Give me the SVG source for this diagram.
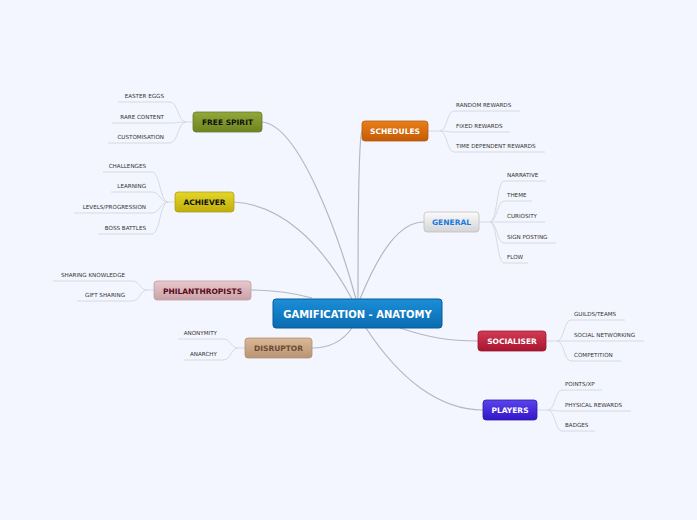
<svg xmlns="http://www.w3.org/2000/svg" width="697" height="520" viewBox="0 0 697 520">
<defs>
<linearGradient id="gC" x1="0" y1="0" x2="0" y2="1"><stop offset="0" stop-color="#1a8fd8"/><stop offset="1" stop-color="#0a6bb0"/></linearGradient>
<linearGradient id="gO" x1="0" y1="0" x2="0" y2="1"><stop offset="0" stop-color="#e9801a"/><stop offset="1" stop-color="#c45a05"/></linearGradient>
<linearGradient id="gG" x1="0" y1="0" x2="0" y2="1"><stop offset="0" stop-color="#fbfbfb"/><stop offset="1" stop-color="#d4d4d4"/></linearGradient>
<linearGradient id="gR" x1="0" y1="0" x2="0" y2="1"><stop offset="0" stop-color="#d33a55"/><stop offset="1" stop-color="#a8142e"/></linearGradient>
<linearGradient id="gP" x1="0" y1="0" x2="0" y2="1"><stop offset="0" stop-color="#5a44ee"/><stop offset="1" stop-color="#3315c8"/></linearGradient>
<linearGradient id="gF" x1="0" y1="0" x2="0" y2="1"><stop offset="0" stop-color="#93a838"/><stop offset="1" stop-color="#6d8420"/></linearGradient>
<linearGradient id="gA" x1="0" y1="0" x2="0" y2="1"><stop offset="0" stop-color="#e4d628"/><stop offset="1" stop-color="#bfae0a"/></linearGradient>
<linearGradient id="gPh" x1="0" y1="0" x2="0" y2="1"><stop offset="0" stop-color="#e8c8cc"/><stop offset="1" stop-color="#c9a2a8"/></linearGradient>
<linearGradient id="gD" x1="0" y1="0" x2="0" y2="1"><stop offset="0" stop-color="#d9b898"/><stop offset="1" stop-color="#b99474"/></linearGradient>
</defs>
<style>
.n{font-family:"DejaVu Sans",Verdana,sans-serif;font-weight:bold;font-size:7.5px;text-anchor:middle}
.l{font-family:"DejaVu Sans",Verdana,sans-serif;font-size:5.6px;fill:#333}
.r{text-anchor:end}
.c{fill:none;stroke:#b4b8c0;stroke-width:1.2}
.u{fill:none;stroke:#d2d6de;stroke-width:0.9}
.b{stroke-width:0.8}
</style>
<rect width="697" height="520" fill="#f3f6fe"/>
<g id="connectors">
<path class="c" d="M356,299 C340,240 300,125 262,122"/>
<path class="c" d="M352,299 C320,240 280,205 234,202"/>
<path class="c" d="M358,299 C358,250 358,140 362,131"/>
<path class="c" d="M360,299 C380,250 400,222 424,222"/>
<path class="c" d="M312,298 C290,292 270,290 251,290"/>
<path class="c" d="M352,328 C340,345 325,348 312,348"/>
<path class="c" d="M400,328 C430,338 450,341 478,341"/>
<path class="c" d="M366,328 C400,380 440,410 483,410"/>
<g class="u">
<path d="M118,102 H170 C178,102 178,122 186,122 H193"/><path d="M112,123 H170 C178,123 178,122 186,122"/><path d="M108,143 H170 C178,143 178,122 186,122"/>
<path d="M103,172 H152 C160,172 160,202 168,202 H175"/><path d="M111,192 H152 C160,192 160,202 168,202"/><path d="M74,213 H152 C160,213 160,202 168,202"/><path d="M98,234 H152 C160,234 160,202 168,202"/>
<path d="M53,281 H132 C140,281 140,290 147,290 H154"/><path d="M77,301 H132 C140,301 140,290 147,290"/>
<path d="M178,339 H223 C231,339 231,348 238,348 H245"/><path d="M184,360 H223 C231,360 231,348 238,348"/>
<path d="M428,131 H440 C447,131 447,111 454,111 H520"/><path d="M440,131 C447,131 447,132 454,132 H510"/><path d="M440,131 C447,131 447,152 454,152 H545"/>
<path d="M479,222 H490 C497,222 497,181 504,181 H546"/><path d="M490,222 C497,222 497,201 504,201 H532"/><path d="M490,222 C497,222 497,222 504,222 H545"/><path d="M490,222 C497,222 497,243 504,243 H556"/><path d="M490,222 C497,222 497,263 504,263 H528"/>
<path d="M546,341 H557 C564,341 564,320 571,320 H625"/><path d="M557,341 C564,341 564,341 571,341 H644"/><path d="M557,341 C564,341 564,361 571,361 H621"/>
<path d="M537,410 H548 C555,410 555,390 562,390 H602"/><path d="M548,410 C555,410 555,411 562,411 H631"/><path d="M548,410 C555,410 555,431 562,431 H595"/>
</g>
</g>
<g id="central"><rect x="273" y="299" width="169" height="29" rx="3" fill="url(#gC)" stroke="#0a5a96"/><text class="n" x="357.5" y="317.5" fill="#fff" style="font-size:10px">GAMIFICATION - ANATOMY</text></g>
<g id="schedules"><rect x="362" y="121" width="66" height="20" rx="3" fill="url(#gO)" stroke="#b85a10" class="b"/><text class="n" x="395" y="134" fill="#fff">SCHEDULES</text>
<text class="l" x="456" y="107">RANDOM REWARDS</text><text class="l" x="456" y="128">FIXED REWARDS</text><text class="l" x="456" y="148">TIME DEPENDENT REWARDS</text></g>
<g id="general"><rect x="424" y="212" width="55" height="20" rx="3" fill="url(#gG)" stroke="#c0c0c0" class="b"/><text class="n" x="451.5" y="225" fill="#1a7ae0">GENERAL</text>
<text class="l" x="507" y="177">NARRATIVE</text><text class="l" x="507" y="197">THEME</text><text class="l" x="507" y="218">CURIOSITY</text><text class="l" x="507" y="239">SIGN POSTING</text><text class="l" x="507" y="259">FLOW</text></g>
<g id="socialiser"><rect x="478" y="331" width="68" height="20" rx="3" fill="url(#gR)" stroke="#9a1a30" class="b"/><text class="n" x="512" y="344" fill="#fff">SOCIALISER</text>
<text class="l" x="574" y="316">GUILDS/TEAMS</text><text class="l" x="574" y="337">SOCIAL NETWORKING</text><text class="l" x="574" y="357">COMPETITION</text></g>
<g id="players"><rect x="483" y="400" width="54" height="20" rx="3" fill="url(#gP)" stroke="#3020a0" class="b"/><text class="n" x="510" y="413" fill="#fff">PLAYERS</text>
<text class="l" x="565" y="386">POINTS/XP</text><text class="l" x="565" y="407">PHYSICAL REWARDS</text><text class="l" x="565" y="427">BADGES</text></g>
<g id="freespirit"><rect x="193" y="112" width="69" height="20" rx="3" fill="url(#gF)" stroke="#6a7a30" class="b"/><text class="n" x="227.5" y="125" fill="#111">FREE SPIRIT</text>
<text class="l r" x="164" y="98">EASTER EGGS</text><text class="l r" x="164" y="119">RARE CONTENT</text><text class="l r" x="164" y="139">CUSTOMISATION</text></g>
<g id="achiever"><rect x="175" y="192" width="59" height="20" rx="3" fill="url(#gA)" stroke="#b0a020" class="b"/><text class="n" x="204.5" y="205" fill="#111">ACHIEVER</text>
<text class="l r" x="146" y="168">CHALLENGES</text><text class="l r" x="146" y="188">LEARNING</text><text class="l r" x="146" y="209">LEVELS/PROGRESSION</text><text class="l r" x="146" y="230">BOSS BATTLES</text></g>
<g id="philanthropists"><rect x="154" y="281" width="97" height="19" rx="3" fill="url(#gPh)" stroke="#c0a0a6" class="b"/><text class="n" x="202.5" y="293.5" fill="#5a0a1a">PHILANTHROPISTS</text>
<text class="l r" x="125" y="277">SHARING KNOWLEDGE</text><text class="l r" x="125" y="297">GIFT SHARING</text></g>
<g id="disruptor"><rect x="245" y="338" width="67" height="20" rx="3" fill="url(#gD)" stroke="#b09070" class="b"/><text class="n" x="278.5" y="351" fill="#6a4a30">DISRUPTOR</text>
<text class="l r" x="217" y="335">ANONYMITY</text><text class="l r" x="217" y="356">ANARCHY</text></g>
</svg>
